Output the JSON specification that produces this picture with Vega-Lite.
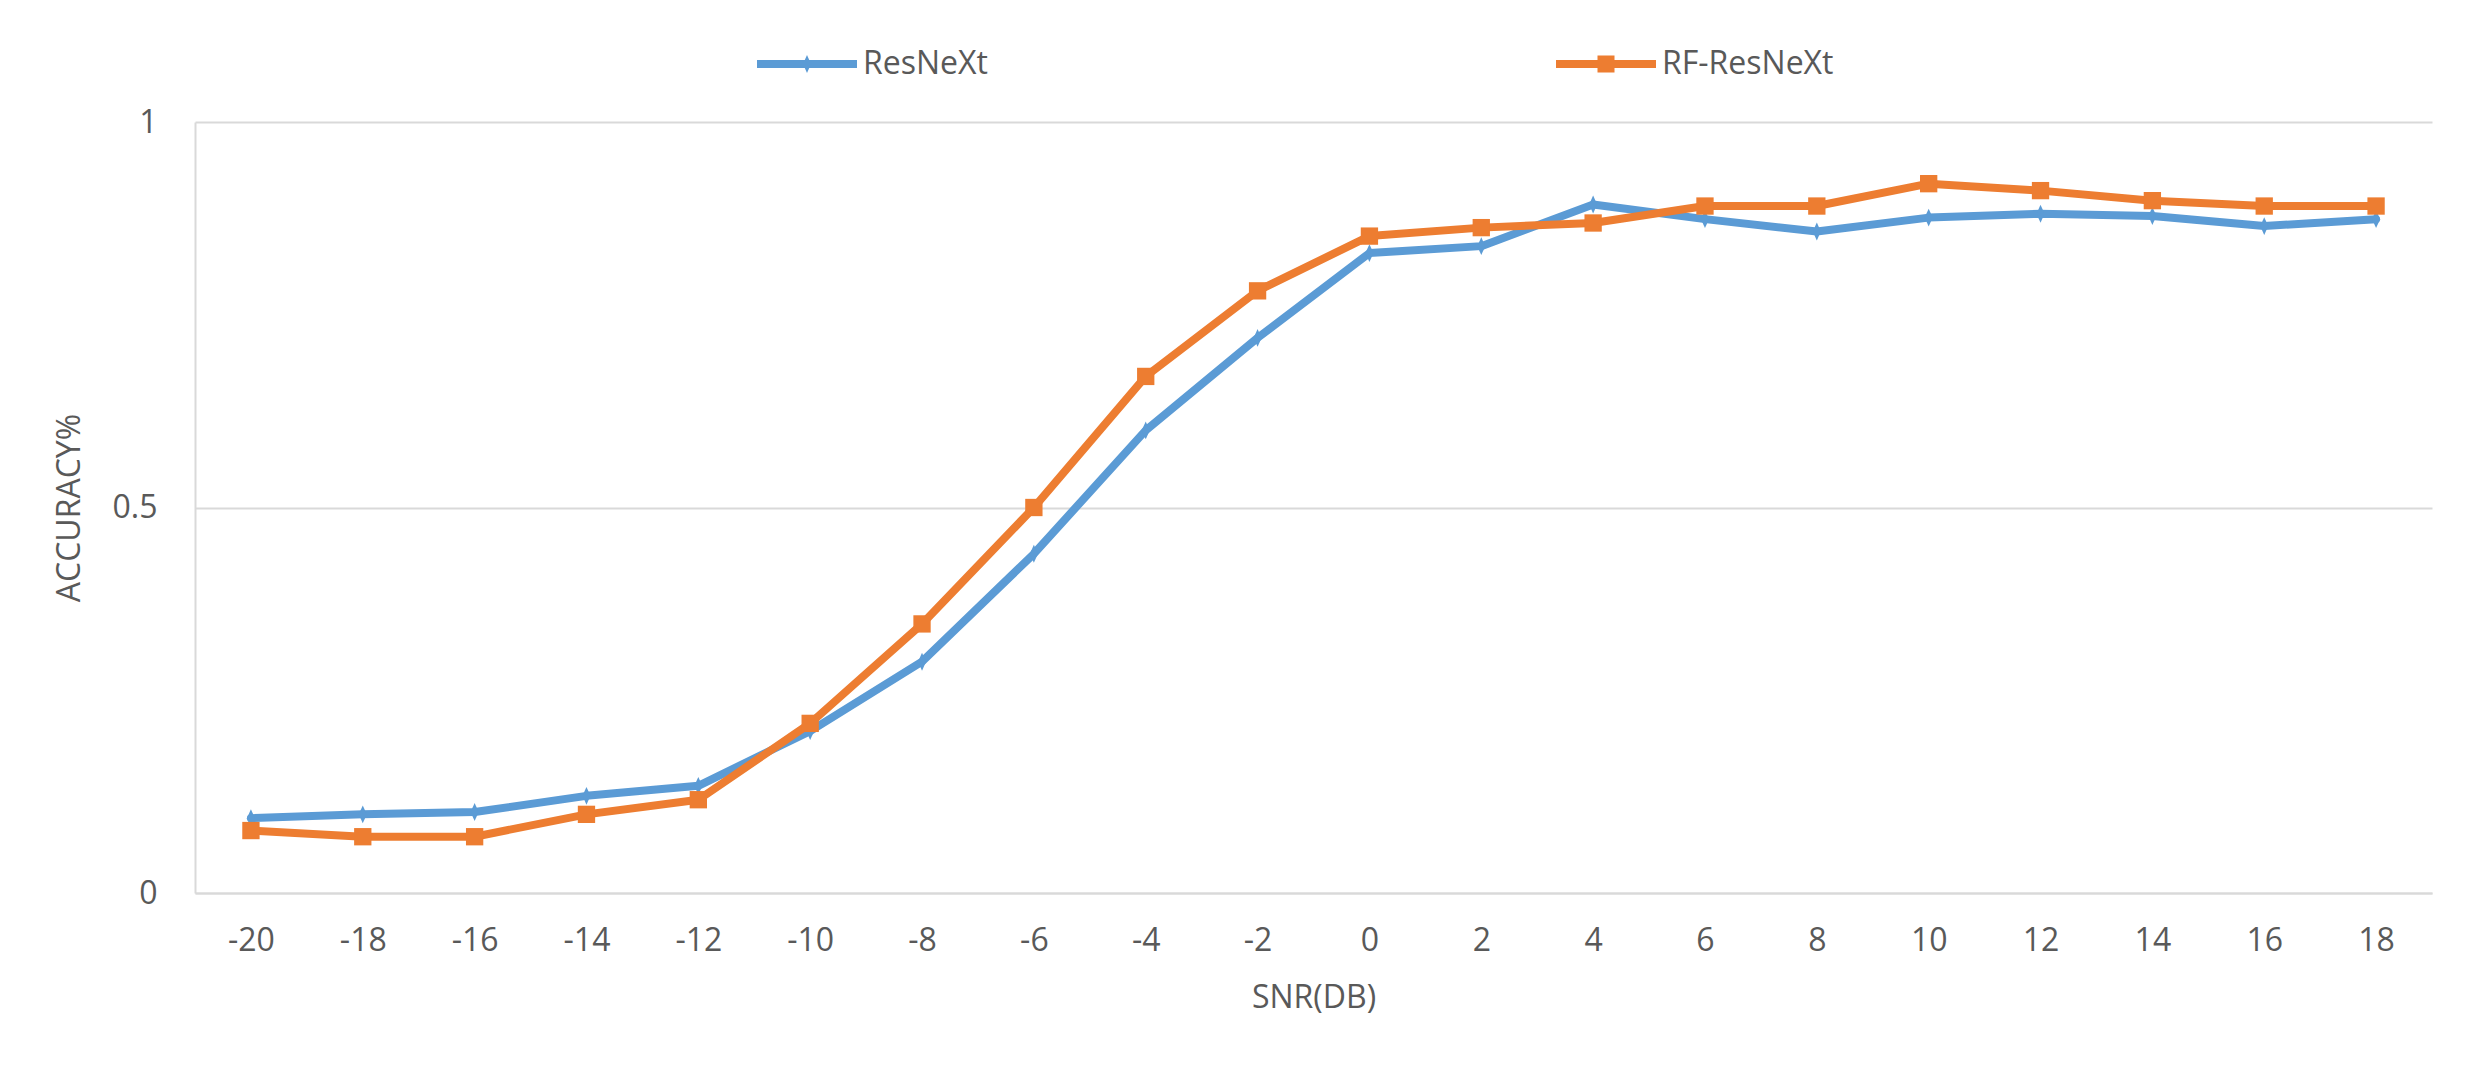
{
  "$schema": "https://vega.github.io/schema/vega-lite/v6.json",
  "autosize": "none",
  "width": 2237,
  "height": 771,
  "padding": {"left": 195, "top": 122, "right": 46, "bottom": 175},
  "background": "white",
  "config": {
    "view": {"stroke": null},
    "font": "Open Sans",
    "axis": {
      "labelFont": "Open Sans",
      "titleFont": "Open Sans",
      "labelColor": "#595959",
      "titleColor": "#595959",
      "labelFontSize": 32,
      "titleFontSize": 32,
      "titleFontWeight": "normal",
      "domainColor": "#d9d9d9",
      "domainWidth": 2,
      "gridColor": "#d9d9d9",
      "gridWidth": 2,
      "ticks": false,
      "tickSize": 0
    }
  },
  "data": {
    "values": [
      {"snr": -20, "series": "ResNeXt", "acc": 0.097},
      {"snr": -18, "series": "ResNeXt", "acc": 0.102},
      {"snr": -16, "series": "ResNeXt", "acc": 0.105},
      {"snr": -14, "series": "ResNeXt", "acc": 0.126},
      {"snr": -12, "series": "ResNeXt", "acc": 0.139},
      {"snr": -10, "series": "ResNeXt", "acc": 0.21},
      {"snr": -8, "series": "ResNeXt", "acc": 0.30},
      {"snr": -6, "series": "ResNeXt", "acc": 0.44},
      {"snr": -4, "series": "ResNeXt", "acc": 0.60},
      {"snr": -2, "series": "ResNeXt", "acc": 0.72},
      {"snr": 0, "series": "ResNeXt", "acc": 0.83},
      {"snr": 2, "series": "ResNeXt", "acc": 0.839},
      {"snr": 4, "series": "ResNeXt", "acc": 0.893},
      {"snr": 6, "series": "ResNeXt", "acc": 0.874},
      {"snr": 8, "series": "ResNeXt", "acc": 0.858},
      {"snr": 10, "series": "ResNeXt", "acc": 0.876},
      {"snr": 12, "series": "ResNeXt", "acc": 0.881},
      {"snr": 14, "series": "ResNeXt", "acc": 0.878},
      {"snr": 16, "series": "ResNeXt", "acc": 0.865},
      {"snr": 18, "series": "ResNeXt", "acc": 0.874},
      {"snr": -20, "series": "RF-ResNeXt", "acc": 0.081},
      {"snr": -18, "series": "RF-ResNeXt", "acc": 0.073},
      {"snr": -16, "series": "RF-ResNeXt", "acc": 0.073},
      {"snr": -14, "series": "RF-ResNeXt", "acc": 0.102},
      {"snr": -12, "series": "RF-ResNeXt", "acc": 0.121},
      {"snr": -10, "series": "RF-ResNeXt", "acc": 0.22},
      {"snr": -8, "series": "RF-ResNeXt", "acc": 0.349},
      {"snr": -6, "series": "RF-ResNeXt", "acc": 0.50},
      {"snr": -4, "series": "RF-ResNeXt", "acc": 0.67},
      {"snr": -2, "series": "RF-ResNeXt", "acc": 0.781},
      {"snr": 0, "series": "RF-ResNeXt", "acc": 0.852},
      {"snr": 2, "series": "RF-ResNeXt", "acc": 0.863},
      {"snr": 4, "series": "RF-ResNeXt", "acc": 0.869},
      {"snr": 6, "series": "RF-ResNeXt", "acc": 0.891},
      {"snr": 8, "series": "RF-ResNeXt", "acc": 0.891},
      {"snr": 10, "series": "RF-ResNeXt", "acc": 0.92},
      {"snr": 12, "series": "RF-ResNeXt", "acc": 0.911},
      {"snr": 14, "series": "RF-ResNeXt", "acc": 0.898},
      {"snr": 16, "series": "RF-ResNeXt", "acc": 0.891},
      {"snr": 18, "series": "RF-ResNeXt", "acc": 0.891}
    ]
  },
  "encoding": {
    "x": {
      "field": "snr",
      "type": "ordinal",
      "sort": "ascending",
      "scale": {"type": "point", "padding": 0.5},
      "axis": {
        "title": "SNR(DB)",
        "labelAngle": 0,
        "labelPadding": 32,
        "titlePadding": 26,
        "grid": false
      }
    },
    "y": {
      "field": "acc",
      "type": "quantitative",
      "scale": {"domain": [0, 1], "nice": false},
      "axis": {
        "title": "ACCURACY%",
        "values": [0, 0.5, 1],
        "format": "~g",
        "labelPadding": 38,
        "titlePadding": 26,
        "grid": true
      }
    },
    "color": {
      "field": "series",
      "type": "nominal",
      "scale": {"domain": ["ResNeXt", "RF-ResNeXt"], "range": ["#5B9BD5", "#ED7D31"]}
    }
  },
  "layer": [
    {
      "mark": {"type": "line", "strokeWidth": 8, "strokeJoin": "round", "strokeCap": "round"},
      "encoding": {
        "color": {
          "field": "series",
          "type": "nominal",
          "legend": {
            "orient": "none",
            "legendX": 562,
            "legendY": -108,
            "direction": "horizontal",
            "title": null,
            "padding": 0,
            "symbolSize": 10000,
            "symbolStrokeWidth": 0,
            "labelOffset": 6,
            "columnPadding": 568,
            "labelFont": "Open Sans",
            "labelFontSize": 32,
            "labelColor": "#595959",
            "labelLimit": 400,
            "encode": {
              "symbols": {
                "update": {
                  "shape": {"signal": "datum.value === 'ResNeXt' ? 'M-1,-0.08H1V0.08H-1Z M0,-0.18L0.08,0L0,0.18L-0.08,0Z' : 'M-1,-0.08H1V0.08H-1Z M-0.17,-0.17H0.17V0.17H-0.17Z'"},
                  "fill": {"signal": "datum.value === 'ResNeXt' ? '#5B9BD5' : '#ED7D31'"},
                  "strokeWidth": {"value": 0}
                }
              }
            }
          }
        }
      }
    },
    {
      "transform": [{"filter": "datum.series === 'ResNeXt'"}],
      "mark": {"type": "point", "filled": true, "opacity": 1, "strokeWidth": 0, "shape": "M0,-1L0.45,0L0,1L-0.45,0Z", "size": 320},
      "encoding": {
        "color": {"field": "series", "type": "nominal", "legend": null}
      }
    },
    {
      "transform": [{"filter": "datum.series === 'RF-ResNeXt'"}],
      "mark": {"type": "point", "filled": true, "opacity": 1, "strokeWidth": 0, "shape": "square", "size": 300},
      "encoding": {
        "color": {"field": "series", "type": "nominal", "legend": null}
      }
    }
  ]
}
